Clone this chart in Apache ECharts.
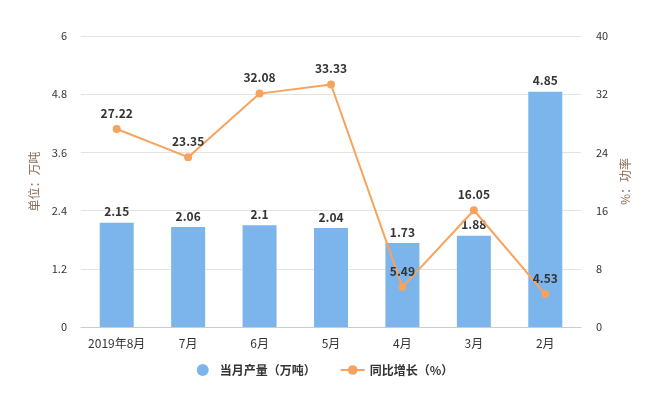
<!DOCTYPE html>
<html>
<head>
<meta charset="utf-8">
<script src="https://cdn.jsdelivr.net/npm/echarts@6/dist/echarts.min.js"></script>
<style>html,body{margin:0;padding:0;background:#fff}#c{width:650px;height:395px}</style>
</head>
<body>
<div id="c"></div>
<script>
const categories = ['2019年8月', '7月', '6月', '5月', '4月', '3月', '2月'];
const outputValues = [2.15, 2.06, 2.1, 2.04, 1.73, 1.88, 4.85];
const growthValues = [27.22, 23.35, 32.08, 33.33, 5.49, 16.05, 4.53];
const seriesNames = ['当月产量（万吨）', '同比增长（%）'];
const leftAxisName = '单位：万吨';
const rightAxisName = '%：功率';

const chart = echarts.init(document.getElementById('c'));
const font = '"Microsoft YaHei","Noto Sans CJK SC",sans-serif';
chart.setOption({
  animation: false,
  textStyle: { fontFamily: font },
  grid: { left: 81, right: 69, top: 36, bottom: 68 },
  legend: {
    bottom: 14,
    left: 'center',
    itemGap: 24,
    textStyle: { color: '#333', fontSize: 12, fontWeight: 'bold' },
    data: [
      { name: seriesNames[0], icon: 'circle' },
      { name: seriesNames[1] }
    ],
    itemWidth: 24, itemHeight: 12
  },
  xAxis: {
    type: 'category',
    data: categories,
    axisTick: { alignWithLabel: true, lineStyle: { color: '#aaa' } },
    axisLine: { lineStyle: { color: '#ccc' } },
    axisLabel: { color: '#333', fontSize: 12, margin: 10, interval: 0 }
  },
  yAxis: [
    {
      type: 'value', min: 0, max: 6, interval: 1.2,
      name: leftAxisName, nameLocation: 'middle', nameGap: 38,
      nameTextStyle: { color: '#8b6d54', fontSize: 12 },
      axisLine: { show: false }, axisTick: { show: false },
      axisLabel: { color: '#333', fontSize: 11, margin: 14 },
      splitLine: { lineStyle: { color: '#e3e3e3' } }
    },
    {
      type: 'value', min: 0, max: 40, interval: 8,
      name: rightAxisName, nameLocation: 'middle', nameGap: 33,
      nameRotate: 90,
      nameTextStyle: { color: '#8b6d54', fontSize: 12 },
      axisLine: { show: false }, axisTick: { show: false },
      axisLabel: { color: '#333', fontSize: 11, margin: 15 },
      splitLine: { show: false }
    }
  ],
  series: [
    {
      name: seriesNames[0], type: 'bar', data: outputValues, barWidth: 34,
      itemStyle: { color: '#7cb5ec' },
      label: { show: true, position: 'top', color: '#333', fontWeight: 'bold', fontSize: 12 }
    },
    {
      name: seriesNames[1], type: 'line', yAxisIndex: 1, data: growthValues,
      symbol: 'circle', symbolSize: 8,
      lineStyle: { color: '#f7a35c', width: 2 },
      itemStyle: { color: '#f7a35c' },
      label: { show: true, position: 'top', color: '#333', fontWeight: 'bold', fontSize: 12, distance: 6 }
    }
  ]
});
</script>
</body>
</html>
